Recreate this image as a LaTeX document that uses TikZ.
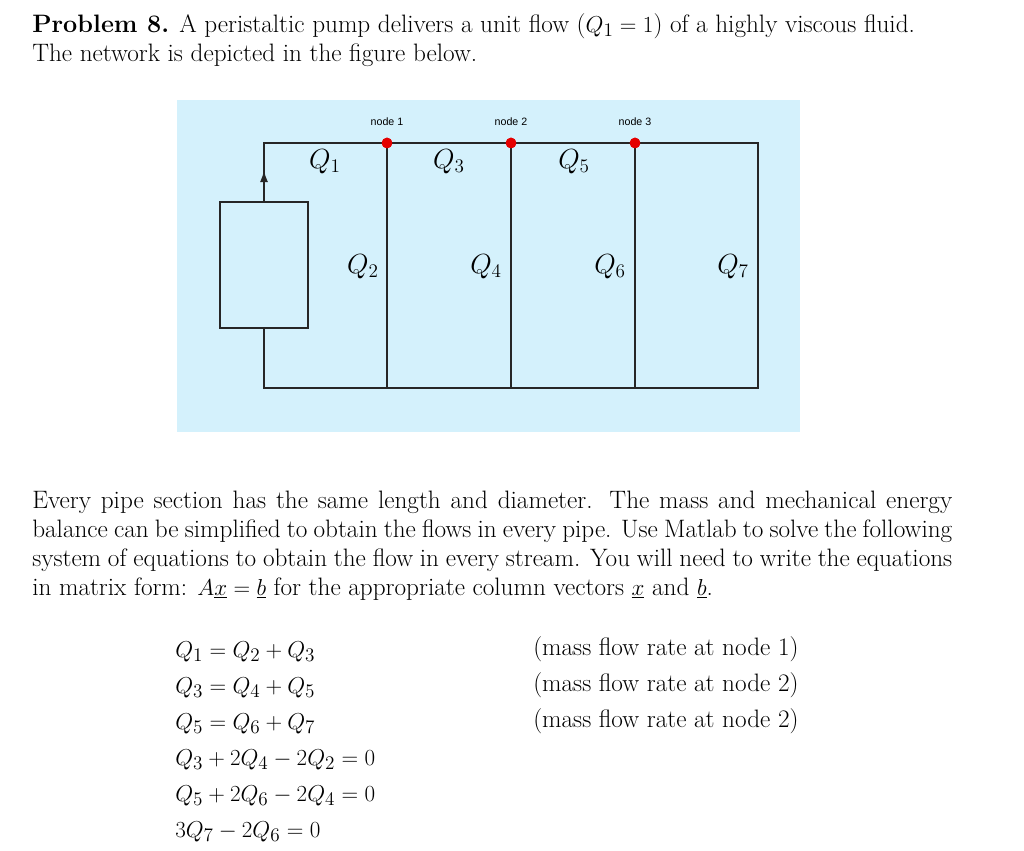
\documentclass[tikz,border=0pt]{standalone}
\usepackage{fontspec}
\usetikzlibrary{arrows.meta}
\newfontfamily\lab{Liberation Sans}
\begin{document}
\begin{tikzpicture}[x=0.75pt,y=-0.75pt,
  wire/.style={line width=1.4pt,color=black!85},
  dot/.style={circle,fill=red!90!black,inner sep=0pt,minimum size=8pt},
  nlab/.style={font=\lab\fontsize{8}{9}\selectfont},
  qlab/.style={font=\fontsize{20}{21}\selectfont},
  txt/.style={anchor=north west,inner sep=0pt,align=justify,text width=690pt,font=\fontsize{18.9}{21.75}\selectfont},
  eq/.style={anchor=base west,inner sep=0pt,font=\fontsize{18.9}{21.75}\selectfont}]
\useasboundingbox (0,0) rectangle (1024,850);
\fill[white] (0,0) rectangle (1024,850);
\fill[cyan!17] (177,100) rectangle (800,432);
\node[txt] (t1) at (32,13) {\textbf{Problem 8.} A peristaltic pump delivers a unit flow ($Q_1=1$) of a highly viscous fluid.\\ The network is depicted in the figure below.};
% circuit
\coordinate (tl) at (264,143); \coordinate (bl) at (264,388);
\node[dot] (n1) at (387,143) {}; \node[dot] (n2) at (511,143) {}; \node[dot] (n3) at (635,143) {};
\coordinate (tr) at (758,143); \coordinate (br) at (758,388);
\coordinate (b1) at (387,388); \coordinate (b2) at (511,388); \coordinate (b3) at (635,388);
\node[draw,wire,minimum width=66pt,minimum height=94pt,inner sep=0pt] (pump) at (264,265) {};
\draw[wire] (pump.north) -- (tl) -- (n1.center) -- (n2.center) -- (n3.center) -- (tr) -- (br) -- (bl) -- (pump.south);
\draw[wire] (n1.center) -- (b1); \draw[wire] (n2.center) -- (b2); \draw[wire] (n3.center) -- (b3);
\draw[wire,-{Latex[length=9pt,width=6pt]}] (pump.north) -- (264,170);
\node[dot] at (387,143) {}; \node[dot] at (511,143) {}; \node[dot] at (635,143) {};
\node[nlab] (l1) at (387,122) {node 1}; \node[nlab] (l2) at (511,122) {node 2}; \node[nlab] (l3) at (635,122) {node 3};
\node[qlab] (q1) at (325,162) {$Q_1$}; \node[qlab] (q3) at (449,162) {$Q_3$}; \node[qlab] (q5) at (574,162) {$Q_5$};
\node[qlab] (q2) at (363,267) {$Q_2$}; \node[qlab] (q4) at (486,267) {$Q_4$}; \node[qlab] (q6) at (610,267) {$Q_6$}; \node[qlab] (q7) at (733,267) {$Q_7$};
\node[txt] (t2) at (32,491) {Every pipe section has the same length and diameter. The mass and mechanical energy balance can be simplified to obtain the flows in every pipe. Use Matlab to solve the following system of equations to obtain the flow in every stream. You will need to write the equations in matrix form: $A\underline{x}=\underline{b}$ for the appropriate column vectors $\underline{x}$ and $\underline{b}$.};
\node[eq] (e1) at (175,657) {$Q_1=Q_2+Q_3$};
\node[eq] (e2) at (175,693) {$Q_3=Q_4+Q_5$};
\node[eq] (e3) at (175,729) {$Q_5=Q_6+Q_7$};
\node[eq] (e4) at (175,765) {$Q_3+2Q_4-2Q_2=0$};
\node[eq] (e5) at (175,801) {$Q_5+2Q_6-2Q_4=0$};
\node[eq] (e6) at (175,837) {$3Q_7-2Q_6=0$};
\node[eq] (r1) at (533,655) {(mass flow rate at node 1)};
\node[eq] (r2) at (533,691) {(mass flow rate at node 2)};
\node[eq] (r3) at (533,727) {(mass flow rate at node 2)};
\end{tikzpicture}
\end{document}
